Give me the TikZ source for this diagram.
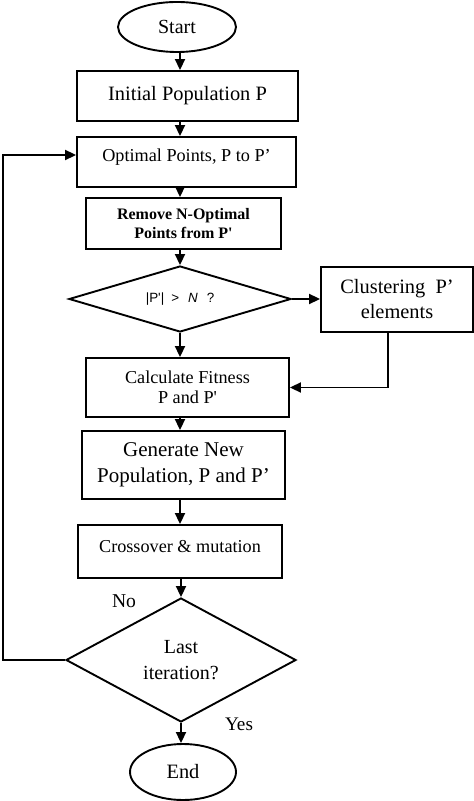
\documentclass[tikz,border=0pt]{standalone}
\usepackage{fontspec}
\setmainfont{Liberation Serif}
\setsansfont{Liberation Sans}
\usetikzlibrary{shapes.geometric,arrows.meta}

\begin{document}
\begin{tikzpicture}[x=0.5pt, y=-0.5pt, line width=0.95pt,
  term/.style = {draw, ellipse, inner sep=0pt},
  box/.style = {draw, rectangle, inner sep=0pt, align=center},
  dec/.style = {draw, diamond, inner sep=0pt, aspect=2, align=center},
  arr/.style = {-{Triangle[length=5.5pt, width=5pt]}}]
  \useasboundingbox (0,0) rectangle (474,801);
  \coordinate (spine) at (180,0);
  \coordinate (back) at (3,155);

  \node[term, minimum width=59pt, minimum height=25pt, font=\fontsize{10}{12}\selectfont] (start) at (177,27) {Start};
  \node[box, minimum width=110.5pt, minimum height=25pt, font=\fontsize{10.2}{12}\selectfont] (init) at (187.5,96) {Initial Population P};
  \node[box, minimum width=109.5pt, minimum height=25pt, text height=7pt, text depth=7.5pt, font=\fontsize{9.1}{11}\selectfont] (opt) at (186.5,162) {Optimal Points, P to P’};
  \node[box, minimum width=97.5pt, minimum height=25.5pt, font=\fontsize{8}{9.5}\selectfont\bfseries] (remove) at (183.5,223.5) {Remove N-Optimal\\Points from P\textquotesingle};
  \node[dec, minimum width=111pt, minimum height=33pt, font=\sffamily\fontsize{6.7}{8}\selectfont] (check) at (180,299) {|P\textquotesingle|\hspace{3.5pt}>\hspace{4.5pt}\textit{N}\hspace{4.5pt}?};
  \node[box, minimum width=76pt, minimum height=32.5pt, font=\fontsize{10.2}{12.5}\selectfont] (clust) at (397,299.5) {Clustering \ P’\\elements};
  \node[box, minimum width=101.5pt, minimum height=29.5pt, font=\fontsize{9.1}{10}\selectfont] (calc) at (187.5,387.5) {Calculate Fitness\\P and P\textquotesingle};
  \node[box, minimum width=101.5pt, minimum height=34pt, font=\fontsize{10.5}{13}\selectfont] (gen) at (183.5,465) {Generate New\\Population, P and P’};
  \node[box, minimum width=102pt, minimum height=26.5pt, text height=7pt, text depth=6pt, font=\fontsize{9.1}{11}\selectfont] (cross) at (180,551.5) {Crossover \& mutation};
  \node[dec, minimum width=115pt, minimum height=62pt, font=\fontsize{10}{13}\selectfont] (last) at (181,660) {Last\\iteration?};
  \node[term, minimum width=53pt, minimum height=28pt, font=\fontsize{10.2}{12}\selectfont] (end) at (183,772) {End};
  \node[font=\fontsize{9.8}{12}\selectfont] (no) at (124,601) {No};
  \node[font=\fontsize{9.6}{12}\selectfont] (yes) at (239,724) {Yes};

  \draw[arr] (start.south -| spine) -- (init.north -| spine);
  \draw[arr] (init.south -| spine) -- (opt.north -| spine);
  \draw[arr] (opt.south -| spine) -- (remove.north -| spine);
  \draw[arr] (remove.south -| spine) -- (check.north);
  \draw[arr] (check.east) -- (check.east -| clust.west);
  \draw[arr] (check.south) -- (calc.north -| spine);
  \draw[arr] ([xshift=-4.5pt]clust.south) |- (calc.east);
  \draw[arr] (calc.south -| spine) -- (gen.north -| spine);
  \draw[arr] (gen.south -| spine) -- (cross.north -| spine);
  \draw[arr] (cross.south -| last.north) -- (last.north);
  \draw[arr] (last.south) -- (end.north -| last.south);
  \draw[arr] (last.west) -| (back) -- (back -| opt.west);
\end{tikzpicture}
\end{document}
